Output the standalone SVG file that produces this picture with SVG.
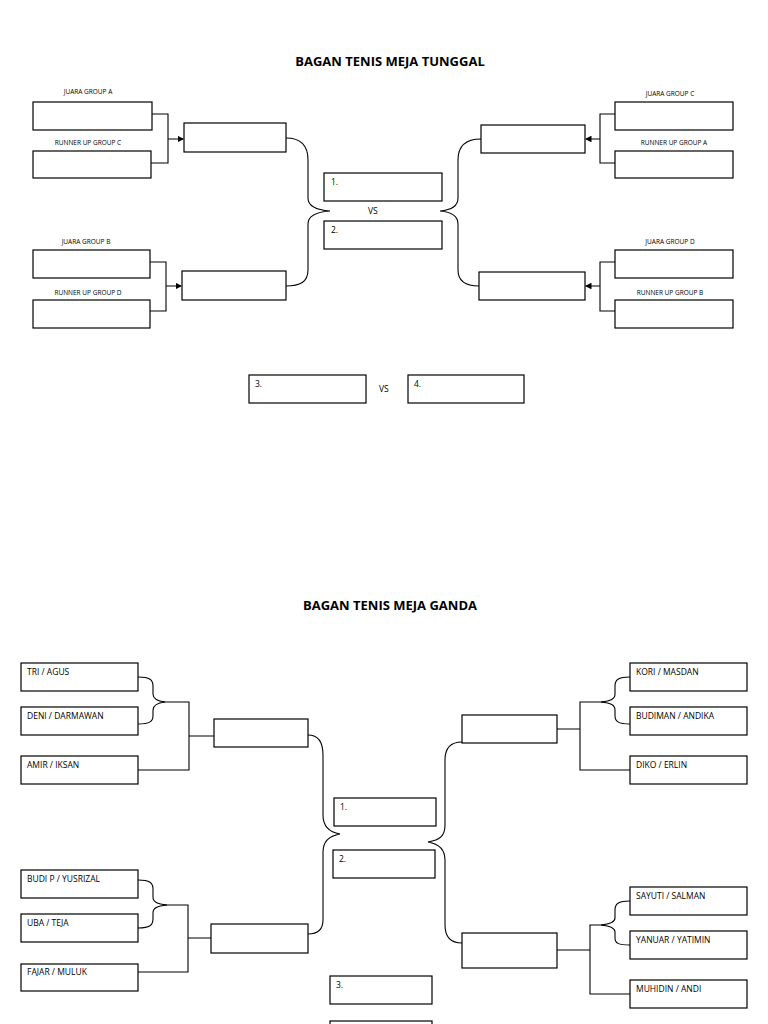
<svg xmlns="http://www.w3.org/2000/svg" width="768" height="1024" viewBox="0 0 768 1024">
<style>
.b{fill:#fff;stroke:#000;stroke-width:1.2}
.c{fill:none;stroke:#000;stroke-width:1.1}
text{font-family:"Open Sans","Liberation Sans",sans-serif;fill:#000}
.t{font-size:13px;font-weight:bold;text-anchor:middle}
.s{font-size:6.5px;text-anchor:middle}
.n{font-size:8.5px}
</style>
<defs><marker id="a" markerWidth="6" markerHeight="6" refX="5" refY="3" orient="auto"><path d="M0,0L6,3L0,6z"/></marker></defs>
<rect width="768" height="1024" fill="#fff"/>
<text class="t" x="390" y="66">BAGAN TENIS MEJA TUNGGAL</text>
<text class="t" x="390" y="610">BAGAN TENIS MEJA GANDA</text>
<g id="conn">
<path class="c" d="M152,114H168V163H151M168,139H183" marker-end="url(#a)"/>
<path class="c" d="M150,262H166V311H150M166,286H181" marker-end="url(#a)"/>
<path class="c" d="M286,138C300,138 308,144 308,160V198C308,206 316,210 330,211C316,212 308,216 308,224V270C308,282 300,286 286,286"/>
<path class="c" d="M615,114H600V163H615M600,139H586" marker-end="url(#a)"/>
<path class="c" d="M615,262H600V311H615M600,286H586" marker-end="url(#a)"/>
<path class="c" d="M481,139C466,139 458,145 458,160V198C458,206 452,210 440,211C452,212 458,216 458,224V270C458,282 466,286 479,286"/>
<path class="c" d="M138,677C150,677 153,680 153,686V694C153,699 157,701 165,702C157,703 153,705 153,710V716C153,721 150,724 138,724"/>
<path class="c" d="M162,702H189V770H138M189,736H214"/>
<path class="c" d="M138,880C150,880 153,883 153,889V897C153,902 157,904 167,905C157,906 153,908 153,913V919C153,925 150,928 138,928"/>
<path class="c" d="M164,905H188V972H138M188,938H211"/>
<path class="c" d="M308,735C318,735 323,742 323,755V815C323,826 328,832 340,834C328,836 323,842 323,852V920C323,930 318,934 308,934"/>
<path class="c" d="M462,742C450,742 445,748 445,760V825C445,836 440,840 428,842C440,844 445,850 445,860V925C445,937 450,943 462,943"/>
<path class="c" d="M630,677C618,677 615,680 615,686V694C615,699 611,701 601,702C611,703 615,705 615,710V716C615,721 618,724 630,724"/>
<path class="c" d="M604,702H580V770H630M580,729H557"/>
<path class="c" d="M630,901C618,901 615,904 615,910V918C615,922 611,924 601,925C611,926 615,928 615,932V938C615,943 618,945 630,945"/>
<path class="c" d="M604,925H590V994H630M590,950H557"/>
</g>
<g id="n-top">
<text class="s" x="88" y="94">JUARA GROUP A</text><rect class="b" x="33" y="102" width="119" height="28"/>
<text class="s" x="88" y="145">RUNNER UP GROUP C</text><rect class="b" x="33" y="151" width="118" height="27"/>
<text class="s" x="86" y="244">JUARA GROUP B</text><rect class="b" x="33" y="250" width="117" height="28"/>
<text class="s" x="88" y="295">RUNNER UP GROUP D</text><rect class="b" x="33" y="300" width="117" height="28"/>
<rect class="b" x="184" y="123" width="102" height="29"/>
<rect class="b" x="182" y="271" width="104" height="29"/>
<rect class="b" x="324" y="173" width="118" height="28"/><text class="n" x="331" y="185">1.</text>
<text class="n" x="368" y="214">VS</text>
<rect class="b" x="324" y="221" width="118" height="28"/><text class="n" x="331" y="233">2.</text>
<text class="s" x="670" y="96">JUARA GROUP C</text><rect class="b" x="615" y="102" width="118" height="28"/>
<text class="s" x="674" y="145">RUNNER UP GROUP A</text><rect class="b" x="615" y="151" width="118" height="27"/>
<text class="s" x="670" y="244">JUARA GROUP D</text><rect class="b" x="615" y="250" width="118" height="28"/>
<text class="s" x="670" y="295">RUNNER UP GROUP B</text><rect class="b" x="615" y="300" width="118" height="28"/>
<rect class="b" x="481" y="125" width="104" height="28"/>
<rect class="b" x="479" y="272" width="106" height="28"/>
<rect class="b" x="249" y="375" width="117" height="28"/><text class="n" x="255" y="387">3.</text>
<text class="n" x="379" y="392">VS</text>
<rect class="b" x="408" y="375" width="116" height="28"/><text class="n" x="414" y="387">4.</text>
</g>
<g id="n-bottom">
<rect class="b" x="21" y="663" width="117" height="28"/><text class="n" x="27" y="675">TRI / AGUS</text>
<rect class="b" x="21" y="707" width="117" height="28"/><text class="n" x="27" y="719">DENI / DARMAWAN</text>
<rect class="b" x="21" y="756" width="117" height="28"/><text class="n" x="27" y="768">AMIR / IKSAN</text>
<rect class="b" x="21" y="870" width="117" height="28"/><text class="n" x="27" y="882">BUDI P / YUSRIZAL</text>
<rect class="b" x="21" y="914" width="117" height="28"/><text class="n" x="27" y="926">UBA / TEJA</text>
<rect class="b" x="21" y="964" width="117" height="27"/><text class="n" x="27" y="975">FAJAR / MULUK</text>
<rect class="b" x="214" y="719" width="94" height="28"/>
<rect class="b" x="211" y="924" width="97" height="29"/>
<rect class="b" x="334" y="798" width="102" height="28"/><text class="n" x="340" y="810">1.</text>
<rect class="b" x="333" y="850" width="102" height="28"/><text class="n" x="339" y="862">2.</text>
<rect class="b" x="330" y="976" width="102" height="28"/><text class="n" x="336" y="988">3.</text>
<rect class="b" x="330" y="1021" width="102" height="28"/>
<rect class="b" x="462" y="715" width="95" height="28"/>
<rect class="b" x="462" y="933" width="95" height="35"/>
<rect class="b" x="630" y="663" width="117" height="28"/><text class="n" x="636" y="675">KORI / MASDAN</text>
<rect class="b" x="630" y="707" width="117" height="28"/><text class="n" x="636" y="719">BUDIMAN / ANDIKA</text>
<rect class="b" x="630" y="756" width="117" height="28"/><text class="n" x="636" y="768">DIKO / ERLIN</text>
<rect class="b" x="630" y="887" width="117" height="28"/><text class="n" x="636" y="899">SAYUTI / SALMAN</text>
<rect class="b" x="630" y="931" width="117" height="28"/><text class="n" x="636" y="943">YANUAR / YATIMIN</text>
<rect class="b" x="630" y="980" width="117" height="28"/><text class="n" x="636" y="992">MUHIDIN / ANDI</text>
</g>
</svg>
